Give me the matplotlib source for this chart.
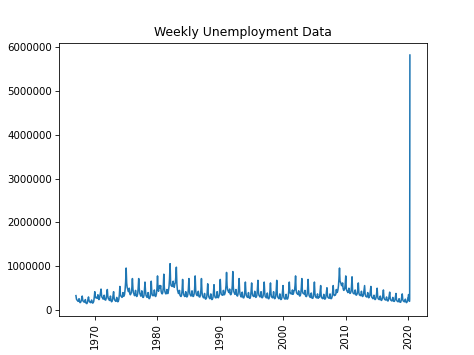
import matplotlib
matplotlib.use('Agg')
import matplotlib.pyplot as plt
import numpy as np
import pandas as pd

# Initial claims (thousands), one value per month (Jan..Dec)
claims_1960s = [
    330, 250, 230, 220, 200, 210, 260, 190, 170, 180, 210, 270,  # 1967
    320, 230, 200, 190, 180, 190, 240, 170, 150, 150, 180, 250,  # 1968
    300, 220, 190, 180, 170, 190, 230, 170, 160, 170, 200, 290,  # 1969
]
claims_1970s = [
    420, 310, 280, 290, 280, 270, 350, 260, 240, 270, 330, 400,
    480, 330, 290, 280, 250, 260, 340, 250, 230, 230, 280, 380,
    470, 310, 260, 250, 220, 230, 320, 220, 190, 200, 240, 340,
    420, 280, 230, 220, 200, 210, 290, 210, 190, 200, 250, 350,
    540, 370, 320, 310, 290, 300, 400, 320, 320, 360, 470, 640,
    960, 620, 520, 480, 430, 420, 500, 380, 350, 370, 400, 520,
    720, 480, 400, 360, 330, 350, 450, 340, 310, 320, 370, 500,
    720, 500, 390, 350, 320, 340, 440, 320, 290, 290, 330, 450,
    640, 440, 340, 310, 290, 310, 400, 290, 260, 270, 310, 420,
    660, 420, 340, 330, 330, 340, 460, 340, 310, 320, 380, 500,
]
claims_1980s = [
    780, 480, 430, 510, 560, 500, 560, 420, 380, 370, 400, 520,
    820, 520, 430, 390, 370, 380, 470, 380, 380, 450, 540, 720,
    1060, 640, 560, 560, 540, 570, 660, 550, 520, 590, 620, 760,
    980, 600, 470, 420, 380, 380, 450, 340, 320, 310, 340, 450,
    700, 440, 360, 330, 310, 320, 420, 320, 300, 310, 360, 480,
    720, 450, 370, 340, 320, 340, 440, 330, 310, 320, 370, 490,
    780, 450, 370, 340, 330, 340, 430, 320, 300, 300, 340, 460,
    720, 420, 330, 300, 280, 290, 380, 270, 250, 260, 290, 400,
    600, 380, 310, 280, 260, 280, 370, 260, 240, 250, 290, 400,
    580, 360, 300, 280, 280, 300, 420, 300, 280, 300, 340, 460,
]
claims_1990s = [
    700, 430, 360, 350, 340, 340, 450, 360, 350, 380, 440, 560,
    860, 560, 470, 440, 410, 400, 480, 370, 350, 370, 420, 560,
    880, 520, 420, 390, 360, 380, 470, 360, 330, 320, 370, 500,
    720, 440, 360, 330, 300, 320, 410, 300, 280, 280, 320, 440,
    640, 400, 330, 310, 290, 300, 400, 290, 270, 270, 310, 440,
    620, 400, 340, 320, 310, 330, 430, 310, 290, 300, 340, 470,
    680, 410, 340, 320, 300, 320, 420, 300, 280, 290, 330, 460,
    640, 390, 310, 300, 280, 290, 390, 280, 260, 260, 300, 430,
    620, 380, 310, 290, 280, 300, 420, 280, 260, 270, 310, 440,
    680, 370, 300, 280, 260, 270, 370, 260, 240, 250, 290, 410,
]
claims_2000s = [
    560, 340, 280, 260, 250, 270, 360, 260, 250, 260, 310, 450,
    640, 430, 380, 380, 370, 370, 460, 360, 380, 440, 450, 560,
    780, 470, 390, 380, 360, 360, 440, 340, 320, 330, 380, 510,
    720, 450, 390, 380, 370, 370, 450, 330, 310, 310, 350, 480,
    700, 400, 330, 310, 290, 300, 390, 280, 270, 270, 310, 440,
    640, 380, 310, 290, 280, 290, 370, 270, 290, 290, 300, 420,
    560, 330, 280, 280, 260, 280, 360, 260, 250, 260, 300, 410,
    510, 340, 290, 280, 270, 280, 370, 270, 260, 270, 310, 420,
    560, 360, 330, 340, 340, 370, 470, 400, 410, 460, 550, 720,
    960, 650, 640, 600, 560, 560, 620, 490, 450, 460, 490, 600,
]
claims_2010s = [
    780, 490, 440, 430, 400, 420, 500, 410, 380, 390, 420, 540,
    760, 450, 390, 380, 370, 380, 460, 360, 340, 350, 380, 480,
    620, 400, 350, 340, 330, 340, 430, 330, 310, 320, 370, 460,
    560, 370, 320, 310, 300, 310, 400, 300, 280, 300, 330, 430,
    540, 340, 290, 280, 260, 270, 340, 260, 240, 250, 290, 380,
    500, 310, 260, 250, 240, 250, 320, 240, 220, 230, 270, 350,
    460, 290, 250, 240, 230, 240, 300, 230, 210, 210, 250, 330,
    410, 270, 230, 220, 210, 220, 290, 210, 200, 200, 230, 310,
    380, 240, 210, 200, 190, 200, 260, 190, 180, 180, 220, 290,
    370, 240, 210, 200, 190, 200, 250, 190, 170, 180, 210, 290,
]
# 2020 weekly, through week ending Mar 28
claims_2020 = [300, 355, 305, 268, 250, 230, 218, 205, 203, 200, 251, 2920, 5823]

monthly = claims_1960s + claims_1970s + claims_1980s + claims_1990s + claims_2000s + claims_2010s
monthly_dates = pd.date_range('1967-01-01', periods=len(monthly), freq='MS') + pd.Timedelta(days=6)
weekly_dates = pd.date_range('2020-01-04', periods=len(claims_2020), freq='W-SAT')

dates = monthly_dates.append(weekly_dates)
values = np.array(monthly + claims_2020) * 1000

fig, ax = plt.subplots(figsize=(474 / 74, 355 / 74), dpi=74)
ax.plot(dates, values)
ax.set_title('Weekly Unemployment Data')
ax.ticklabel_format(axis='y', style='plain')
plt.xticks(rotation=90)

fig.savefig('out.png', dpi=74)
